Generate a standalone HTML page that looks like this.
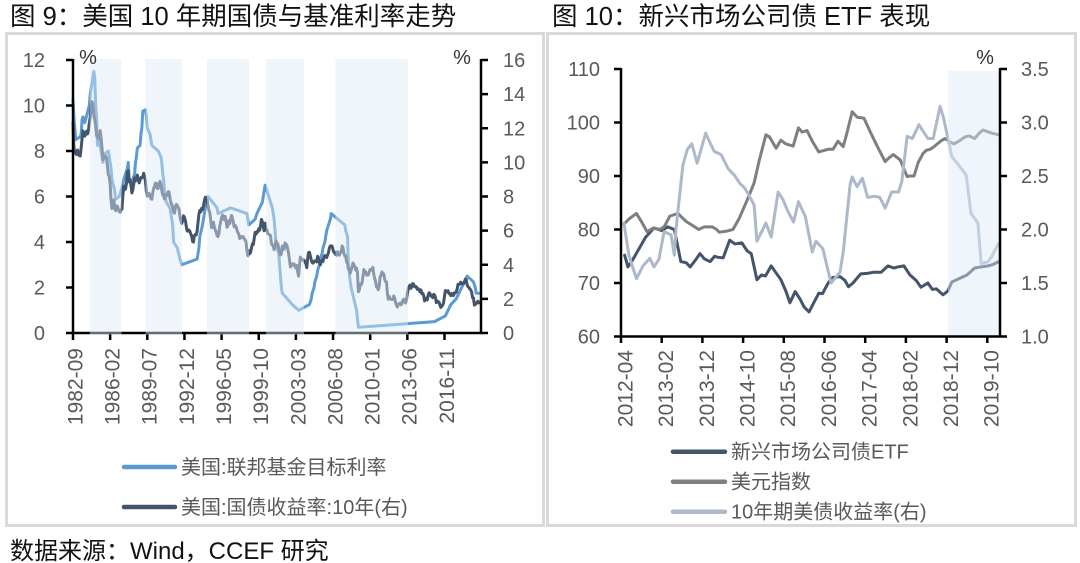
<!DOCTYPE html>
<html><head><meta charset="utf-8"><style>
html,body{margin:0;padding:0;background:#fff;}
svg{display:block;}
text{font-family:"Liberation Sans","Noto Sans CJK SC",sans-serif;}
</style></head><body>
<svg width="1080" height="563" viewBox="0 0 1080 563" xmlns="http://www.w3.org/2000/svg">
<rect x="0" y="0" width="1080" height="563" fill="#fff"/>
<!-- titles -->
<text x="10" y="25" font-size="25.5" fill="#111">图 9：美国 10 年期国债与基准利率走势</text>
<text x="552" y="25" font-size="25.5" fill="#111">图 10：新兴市场公司债 ETF 表现</text>
<text x="10" y="559" font-size="24" fill="#111">数据来源：Wind，CCEF 研究</text>
<!-- frames -->
<rect x="6.5" y="33.5" width="537" height="492" fill="none" stroke="#d9d9d9" stroke-width="3"/>
<rect x="547.5" y="33.5" width="528" height="492" fill="none" stroke="#d9d9d9" stroke-width="3"/>

<!-- LEFT CHART -->
<g fill="none" stroke-linejoin="round" stroke-linecap="round">
<polyline transform="translate(73,333) scale(0.906,-22.75)" vector-effect="non-scaling-stroke" stroke="#5b9bd5" stroke-width="3" points="0,10.25 1,9.5 2,9 3,8.5 8,8.625 9,8.75 10,9.375 11,9.5 13,9.25 18,10 19,10.5 21,11 22,11.25 23,11.5 24,11.25 25,10 26,9.5 27,8.25 29,8.5 32,7.75 33,7.5 35,7.875 39,8 42,7.25 43,6.75 46,6.25 47,5.875 51,6 55,6.5 56,6.75 60,7.25 61,7.5 62,6.75 65,6.5 66,6.75 68,7 69,7.5 70,7.75 71,8.125 74,8.25 75,8.75 76,9 77,9.75 80,9.8125 81,9.5 82,9 85,8.75 86,8.5 87,8.25 94,8 97,7.75 98,7.5 99,7 100,6.75 101,6.25 102,6 103,5.75 107,5.5 108,5.25 109,5 110,4.75 111,4 115,3.75 118,3.25 120,3 137,3.25 138,3.5 139,3.75 140,4.25 143,4.75 146,5.5 149,6 154,5.75 159,5.5 160,5.25 174,5.5 192,5.25 193,5 194,4.75 201,5 203,5.25 206,5.5 209,5.75 210,6 212,6.5 220,5.5 222,5 223,4.5 224,4 225,3.75 227,3.5 228,3 229,2.5 230,2 231,1.75 242,1.25 249,1 261,1.25 263,1.5 264,1.75 266,2 267,2.25 269,2.5 270,2.75 272,3 273,3.25 275,3.5 276,3.75 278,4 279,4.25 280,4.5 282,4.75 284,5 285,5.25 300,4.75 301,4.5 303,4.25 304,3 306,2.25 307,2 313,1 315,0.25 399,0.5 411,0.75 414,1 417,1.25 423,1.5 426,1.75 429,2 432,2.25 435,2.5 442,2.25 444,2 445,1.75 448,1.75"/>
<polyline transform="translate(73,333) scale(0.906,-17.06)" vector-effect="non-scaling-stroke" stroke="#44546a" stroke-width="3" points="0,12.34 1,10.91 2,10.55 3,10.54 4,10.46 5,10.72 6,10.51 7,10.40 8,10.38 9,10.85 10,11.38 11,11.85 12,11.65 13,11.54 14,11.69 15,11.83 16,11.67 17,11.84 18,12.32 19,12.63 20,13.41 21,13.56 22,13.36 23,12.72 24,12.52 25,12.16 26,11.57 27,11.50 28,11.38 29,11.51 30,11.86 31,11.43 32,10.85 33,10.16 34,10.31 35,10.33 36,10.37 37,10.24 38,9.78 39,9.26 40,9.19 41,8.70 42,7.78 43,7.30 44,7.71 45,7.80 46,7.30 47,7.17 48,7.45 49,7.43 50,7.25 51,7.11 52,7.08 53,7.25 54,7.25 55,8.02 56,8.61 57,8.40 58,8.45 59,8.76 60,9.42 61,9.52 62,8.86 63,8.99 64,8.67 65,8.21 66,8.37 67,8.72 68,9.09 69,8.92 70,9.06 71,9.26 72,8.98 73,8.80 74,8.96 75,9.11 76,9.09 77,9.17 78,9.36 79,9.18 80,8.86 81,8.28 82,8.02 83,8.11 84,8.19 85,8.01 86,7.87 87,7.84 88,8.21 89,8.47 90,8.59 91,8.79 92,8.76 93,8.48 94,8.47 95,8.75 96,8.89 97,8.72 98,8.39 99,8.08 100,8.09 101,7.85 102,8.11 103,8.04 104,8.07 105,8.28 106,8.27 107,7.90 108,7.65 109,7.53 110,7.42 111,7.09 112,7.03 113,7.34 114,7.54 115,7.48 116,7.39 117,7.26 118,6.84 119,6.59 120,6.42 121,6.59 122,6.87 123,6.77 124,6.60 125,6.26 126,5.98 127,5.97 128,6.04 129,5.96 130,5.81 131,5.68 132,5.36 133,5.33 134,5.72 135,5.77 136,5.75 137,5.97 138,6.48 139,6.97 140,7.18 141,7.10 142,7.30 143,7.24 144,7.46 145,7.74 146,7.96 147,7.81 148,7.78 149,7.47 150,7.20 151,7.06 152,6.63 153,6.17 154,6.28 155,6.49 156,6.20 157,6.04 158,5.93 159,5.71 160,5.65 161,5.81 162,6.27 163,6.51 164,6.74 165,6.91 166,6.87 167,6.64 168,6.83 169,6.53 170,6.20 171,6.30 172,6.58 173,6.42 174,6.69 175,6.89 176,6.71 177,6.49 178,6.22 179,6.30 180,6.21 181,6.03 182,5.88 183,5.81 184,5.54 185,5.57 186,5.65 187,5.64 188,5.65 189,5.50 190,5.46 191,5.34 192,4.81 193,4.53 194,4.83 195,4.65 196,4.72 197,5.00 198,5.23 199,5.18 200,5.54 201,5.90 202,5.79 203,5.94 204,5.92 205,6.11 206,6.03 207,6.28 208,6.66 209,6.52 210,6.26 211,5.99 212,6.44 213,6.10 214,6.05 215,5.83 216,5.80 217,5.74 218,5.72 219,5.24 220,5.16 221,5.10 222,4.89 223,5.14 224,5.39 225,5.28 226,5.24 227,4.97 228,4.73 229,4.57 230,4.65 231,5.09 232,5.04 233,4.91 234,5.28 235,5.21 236,5.16 237,4.93 238,4.65 239,4.26 240,3.87 241,3.94 242,4.05 243,4.03 244,4.05 245,3.90 246,3.81 247,3.96 248,3.57 249,3.33 250,3.98 251,4.45 252,4.27 253,4.29 254,4.30 255,4.27 256,4.15 257,4.08 258,3.83 259,4.35 260,4.72 261,4.73 262,4.50 263,4.28 264,4.13 265,4.10 266,4.19 267,4.23 268,4.22 269,4.17 270,4.50 271,4.34 272,4.14 273,4.00 274,4.18 275,4.26 276,4.20 277,4.46 278,4.54 279,4.47 280,4.42 281,4.57 282,4.72 283,4.99 284,5.11 285,5.11 286,5.09 287,4.88 288,4.72 289,4.73 290,4.60 291,4.56 292,4.76 293,4.72 294,4.56 295,4.69 296,4.75 297,5.10 298,5.00 299,4.67 300,4.52 301,4.53 302,4.15 303,4.10 304,3.74 305,3.74 306,3.51 307,3.68 308,3.88 309,4.10 310,4.01 311,3.89 312,3.69 313,3.81 314,3.53 315,2.42 316,2.52 317,2.87 318,2.82 319,2.93 320,3.29 321,3.72 322,3.56 323,3.59 324,3.40 325,3.39 326,3.40 327,3.59 328,3.73 329,3.69 330,3.73 331,3.85 332,3.42 333,3.20 334,3.01 335,2.70 336,2.65 337,2.54 338,2.76 339,3.29 340,3.39 341,3.58 342,3.41 343,3.46 344,3.17 345,3.00 346,3.00 347,2.30 348,1.98 349,2.15 350,2.01 351,1.98 352,1.97 353,1.97 354,2.17 355,2.05 356,1.80 357,1.62 358,1.53 359,1.68 360,1.72 361,1.75 362,1.65 363,1.72 364,1.91 365,1.98 366,1.96 367,1.76 368,1.93 369,2.30 370,2.58 371,2.74 372,2.81 373,2.62 374,2.72 375,2.90 376,2.86 377,2.71 378,2.72 379,2.71 380,2.56 381,2.60 382,2.54 383,2.42 384,2.53 385,2.30 386,2.33 387,2.21 388,1.88 389,1.98 390,2.04 391,1.94 392,2.20 393,2.36 394,2.32 395,2.17 396,2.17 397,2.07 398,2.26 399,2.24 400,2.09 401,1.78 402,1.89 403,1.81 404,1.81 405,1.64 406,1.50 407,1.56 408,1.63 409,1.76 410,2.14 411,2.49 412,2.43 413,2.42 414,2.48 415,2.30 416,2.30 417,2.19 418,2.32 419,2.21 420,2.20 421,2.36 422,2.35 423,2.40 424,2.58 425,2.86 426,2.84 427,2.87 428,2.98 429,2.91 430,2.89 431,2.89 432,3.00 433,3.15 434,3.12 435,2.83 436,2.71 437,2.68 438,2.57 439,2.53 440,2.40 441,2.07 442,2.06 443,1.63 444,1.70 445,1.71 446,1.81 447,1.86 448,1.76"/>
</g>
<!-- left axes -->
<g stroke="#000" stroke-width="2.5" fill="none">
<path d="M73,59V334 M66,60H73 M66,105.5H73 M66,151H73 M66,196.5H73 M66,242H73 M66,287.5H73"/>
<path d="M481,59V334 M481,60H488 M481,94.1H488 M481,128.3H488 M481,162.4H488 M481,196.5H488 M481,230.6H488 M481,264.8H488 M481,298.9H488"/>
<path d="M66,333H488 M73,333V340 M110.15,333V340 M147.3,333V340 M184.45,333V340 M221.6,333V340 M258.75,333V340 M295.9,333V340 M333.05,333V340 M370.2,333V340 M407.35,333V340 M444.5,333V340"/>
</g>
<!-- left bands (overlay) -->
<g fill="#dce9f6" fill-opacity="0.46">
<rect x="89.7" y="59" width="31.7" height="275.5"/>
<rect x="145.5" y="59" width="36.5" height="275.5"/>
<rect x="207" y="59" width="42" height="275.5"/>
<rect x="266" y="59" width="38" height="275.5"/>
<rect x="335.5" y="59" width="72.5" height="275.5"/>
</g>
<!-- left tick labels -->
<g font-size="20" fill="#595959" text-anchor="end">
<text x="45" y="333" dy="0.35em">0</text>
<text x="45" y="287.5" dy="0.35em">2</text>
<text x="45" y="242" dy="0.35em">4</text>
<text x="45" y="196.5" dy="0.35em">6</text>
<text x="45" y="151" dy="0.35em">8</text>
<text x="45" y="105.5" dy="0.35em">10</text>
<text x="45" y="60" dy="0.35em">12</text>
</g>
<g font-size="20" fill="#595959">
<text x="503" y="333" dy="0.35em">0</text>
<text x="503" y="298.9" dy="0.35em">2</text>
<text x="503" y="264.8" dy="0.35em">4</text>
<text x="503" y="230.6" dy="0.35em">6</text>
<text x="503" y="196.5" dy="0.35em">8</text>
<text x="503" y="162.4" dy="0.35em">10</text>
<text x="503" y="128.3" dy="0.35em">12</text>
<text x="503" y="94.1" dy="0.35em">14</text>
<text x="503" y="60" dy="0.35em">16</text>
</g>
<text x="88" y="57" dy="0.35em" font-size="20" fill="#333" text-anchor="middle">%</text>
<text x="462" y="57" dy="0.35em" font-size="20" fill="#333" text-anchor="middle">%</text>
<g font-size="21" fill="#595959" text-anchor="end">
<text transform="translate(75,348) rotate(-90)" dy="0.35em">1982-09</text>
<text transform="translate(112.15,348) rotate(-90)" dy="0.35em">1986-02</text>
<text transform="translate(149.3,348) rotate(-90)" dy="0.35em">1989-07</text>
<text transform="translate(186.45,348) rotate(-90)" dy="0.35em">1992-12</text>
<text transform="translate(223.6,348) rotate(-90)" dy="0.35em">1996-05</text>
<text transform="translate(260.75,348) rotate(-90)" dy="0.35em">1999-10</text>
<text transform="translate(297.9,348) rotate(-90)" dy="0.35em">2003-03</text>
<text transform="translate(335.05,348) rotate(-90)" dy="0.35em">2006-08</text>
<text transform="translate(372.2,348) rotate(-90)" dy="0.35em">2010-01</text>
<text transform="translate(409.35,348) rotate(-90)" dy="0.35em">2013-06</text>
<text transform="translate(446.5,348) rotate(-90)" dy="0.35em">2016-11</text>
</g>
<!-- left legend -->
<line x1="124" y1="467" x2="175" y2="467" stroke="#5b9bd5" stroke-width="4.5" stroke-linecap="round"/>
<line x1="124" y1="507" x2="175" y2="507" stroke="#44546a" stroke-width="4.5" stroke-linecap="round"/>
<text x="181" y="467" dy="0.35em" font-size="20" fill="#595959">美国:联邦基金目标利率</text>
<text x="181" y="507" dy="0.35em" font-size="20" fill="#595959">美国:国债收益率:10年(右)</text>

<!-- RIGHT CHART -->
<g fill="none" stroke-linejoin="round" stroke-linecap="round">
<polyline transform="translate(621,657.5) scale(4.07,-5.35)" vector-effect="non-scaling-stroke" stroke="#44546a" stroke-width="3" points="0.9,75.2 1.7,73 3,74.5 4.5,76.5 6,78.5 8.1,80.3 10,79.8 11.5,80.5 13.1,80 14.7,74 16,73.8 17,73 18.5,74.5 19.4,75.5 20.5,74.5 21.9,74 23,75 23.8,74.8 25.1,74.7 26.7,78 28,77.3 29.7,77.5 31,76 32,75.5 33.4,70.6 34.5,71.5 35.5,71.3 36.9,73.2 38,72 39.3,70.6 40.5,68.5 41.5,66.3 42.8,68.4 44,67 45,65.5 46.2,64.6 47.5,66.5 48.6,68.1 49.5,68 50.9,70 52,71 53.8,71.2 55,70.5 55.9,69.3 57,70 58.9,71.7 60.5,71.8 62,72 63.9,72 65.6,73.2 67,72.8 68,73 69.5,73.2 71,71.5 72.5,70.5 73.7,69.2 75.4,70 76.5,68.8 77.5,68.9 79.1,67.8 80.3,68.5 81.3,70.2 83,70.8 85,71.5 86.9,72.8 88.5,73 90.2,73.2 91.5,73.5 92.8,74"/>
<polyline transform="translate(621,657.5) scale(4.07,-5.35)" vector-effect="non-scaling-stroke" stroke="#7f7f7f" stroke-width="3" points="0.7,81 2,82 3.8,83 5,81.5 6.4,79.6 8,80.3 9.5,80 10.6,80.5 12,82.5 14,83 16,81.5 17.5,80.8 19.1,80 20.5,80.5 22.4,80.5 23.5,80 24.1,79.5 26,79.7 27.5,80 29,82 31,85.5 32.7,88.7 34,93 35.6,97.7 36.5,97.3 38.1,95.2 39.3,96.7 40.5,96 42.3,95.6 43.6,99 44.5,98.2 45.7,98.5 47,96.5 48.6,94.5 50,94.8 51,95 52.1,95 53.3,96.5 54.6,95.5 55.5,98 56.8,102 58,101 59.7,100.8 61.4,98 63,95.5 64.9,92.7 66,93.5 66.9,94 68.6,93 70.3,89.9 71,90 72,90 73,92.5 74.2,94.2 75,94.8 76,95 77.1,95.6 78.5,96.5 79.6,97 81,96.3 81.8,96 83,96.5 84.5,97.3 85.5,97.5 86.9,97 88,98 88.9,98.6 90,98.3 91.1,98 92.8,97.7"/>
<polyline transform="translate(621,443.5) scale(4.07,-107)" vector-effect="non-scaling-stroke" stroke="#adb9ca" stroke-width="3" points="0.7,2.06 2,1.75 3.8,1.54 5.4,1.66 7.1,1.73 8.1,1.65 9.3,1.72 10.6,1.98 12.3,1.95 13.1,1.76 13.5,2.0 15.2,2.6 16.3,2.75 17.4,2.8 18.7,2.62 20.8,2.9 22,2.8 22.9,2.73 24.6,2.7 26.3,2.57 28,2.5 29.2,2.43 30.1,2.4 31,2.35 32.7,2.23 33.4,1.89 35.6,2.06 36.9,1.93 38.6,2.35 39.8,2.28 41,2.17 42.4,2.07 43.6,2.26 45.3,2.12 47,1.79 47.9,1.89 49.6,1.82 51.6,1.5 53.8,1.6 54.6,1.79 56.3,2.42 56.8,2.49 58,2.4 59.3,2.48 60.6,2.3 62.3,2.31 63.6,2.3 64.9,2.2 66.5,2.35 68.2,2.35 69,2.45 70.3,2.87 71.6,2.85 73.2,2.98 75.4,2.85 76.7,2.85 78.4,3.15 79.2,3.05 81.3,2.68 83,2.6 84.8,2.51 85.5,2.3 86,2.15 87.7,2.06 88.5,1.68 90.2,1.7 91.1,1.75 92.8,1.87"/>
</g>
<!-- right band (under axes) -->
<rect x="948" y="71" width="51" height="265.5" fill="#dce9f6" fill-opacity="0.46"/>
<!-- right axes -->
<g stroke="#000" stroke-width="2.5" fill="none">
<path d="M621,68V337.5 M614,69H621 M614,122.5H621 M614,176H621 M614,229.5H621 M614,283H621"/>
<path d="M1000,68V337.5 M1000,69H1007 M1000,122.5H1007 M1000,176H1007 M1000,229.5H1007 M1000,283H1007"/>
<path d="M614,336.5H1007 M621,336.5V343 M661.7,336.5V343 M702.4,336.5V343 M743.1,336.5V343 M783.8,336.5V343 M824.5,336.5V343 M865.2,336.5V343 M905.9,336.5V343 M946.6,336.5V343 M987.3,336.5V343"/>
</g>
<g font-size="20" fill="#595959" text-anchor="end">
<text x="600" y="336.5" dy="0.35em">60</text>
<text x="600" y="283" dy="0.35em">70</text>
<text x="600" y="229.5" dy="0.35em">80</text>
<text x="600" y="176" dy="0.35em">90</text>
<text x="600" y="122.5" dy="0.35em">100</text>
<text x="600" y="69" dy="0.35em">110</text>
</g>
<g font-size="20" fill="#595959">
<text x="1021" y="336.5" dy="0.35em">1.0</text>
<text x="1021" y="283" dy="0.35em">1.5</text>
<text x="1021" y="229.5" dy="0.35em">2.0</text>
<text x="1021" y="176" dy="0.35em">2.5</text>
<text x="1021" y="122.5" dy="0.35em">3.0</text>
<text x="1021" y="69" dy="0.35em">3.5</text>
</g>
<text x="985" y="57" dy="0.35em" font-size="20" fill="#333" text-anchor="middle">%</text>
<g font-size="21" fill="#595959" text-anchor="end">
<text transform="translate(625,350) rotate(-90)" dy="0.35em">2012-04</text>
<text transform="translate(665.7,350) rotate(-90)" dy="0.35em">2013-02</text>
<text transform="translate(706.4,350) rotate(-90)" dy="0.35em">2013-12</text>
<text transform="translate(747.1,350) rotate(-90)" dy="0.35em">2014-10</text>
<text transform="translate(787.8,350) rotate(-90)" dy="0.35em">2015-08</text>
<text transform="translate(828.5,350) rotate(-90)" dy="0.35em">2016-06</text>
<text transform="translate(869.2,350) rotate(-90)" dy="0.35em">2017-04</text>
<text transform="translate(909.9,350) rotate(-90)" dy="0.35em">2018-02</text>
<text transform="translate(950.6,350) rotate(-90)" dy="0.35em">2018-12</text>
<text transform="translate(991.3,350) rotate(-90)" dy="0.35em">2019-10</text>
</g>
<!-- right legend -->
<line x1="673" y1="451.7" x2="725" y2="451.7" stroke="#44546a" stroke-width="4.5" stroke-linecap="round"/>
<line x1="673" y1="481.7" x2="725" y2="481.7" stroke="#7f7f7f" stroke-width="4.5" stroke-linecap="round"/>
<line x1="673" y1="511.7" x2="725" y2="511.7" stroke="#adb9ca" stroke-width="4.5" stroke-linecap="round"/>
<text x="731" y="451.7" dy="0.35em" font-size="20" fill="#595959">新兴市场公司债ETF</text>
<text x="731" y="481.7" dy="0.35em" font-size="20" fill="#595959">美元指数</text>
<text x="731" y="511.7" dy="0.35em" font-size="20" fill="#595959">10年期美债收益率(右)</text>
</svg>
</body></html>
